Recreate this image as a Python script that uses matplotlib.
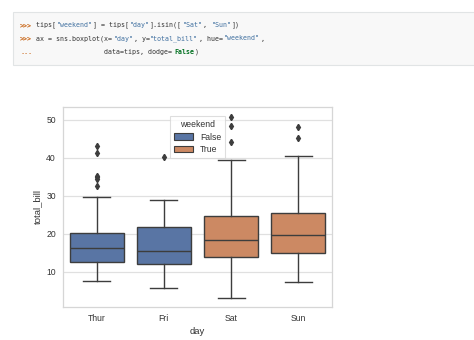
import matplotlib
matplotlib.use('Agg')
import matplotlib.pyplot as plt
import colorsys
from matplotlib.colors import to_rgb
from matplotlib.patches import FancyBboxPatch, Patch

# box statistics for total_bill by day
days = ["Thur", "Fri", "Sat", "Sun"]
weekend = [False, False, True, True]
q1 = [12.44, 12.09, 13.91, 14.99]
med = [16.20, 15.38, 18.24, 19.63]
q3 = [20.16, 21.75, 24.74, 25.60]
whislo = [7.51, 5.75, 3.07, 7.25]
whishi = [29.80, 28.97, 39.42, 40.55]
fliers = [
    [32.68, 34.30, 34.83, 35.26, 41.19, 43.11],
    [40.17],
    [44.30, 48.27, 50.81],
    [45.35, 48.17],
]

# code snippet shown above the chart: (text, colour, bold) tokens per line
code_lines = [
    [(">>>", "#c65d09", True), (" tips[", "#333333", False), ('"weekend"', "#4070a0", False),
     ("] = tips[", "#333333", False), ('"day"', "#4070a0", False), ("].isin([", "#333333", False),
     ('"Sat"', "#4070a0", False), (", ", "#333333", False), ('"Sun"', "#4070a0", False),
     ("])", "#333333", False)],
    [(">>>", "#c65d09", True), (" ax = sns.boxplot(x=", "#333333", False), ('"day"', "#4070a0", False),
     (", y=", "#333333", False), ('"total_bill"', "#4070a0", False), (", hue=", "#333333", False),
     ('"weekend"', "#4070a0", False), (",", "#333333", False)],
    [("...", "#c65d09", True), ("                  data=tips, dodge=", "#333333", False),
     ("False", "#007020", True), (")", "#333333", False)],
]


def desaturate(c, prop=0.75):
    h, l, s = colorsys.rgb_to_hls(*to_rgb(c))
    return colorsys.hls_to_rgb(h, l, s * prop)


W, H = 474, 340
fig = plt.figure(figsize=(W / 100, H / 100), dpi=100)

# code block background
fig.patches.append(FancyBboxPatch((13 / W, 1 - 65 / H), 470 / W, 53 / H,
                                  boxstyle="square,pad=0", transform=fig.transFigure,
                                  facecolor="#f8f8f8", edgecolor="#e1e4e5", linewidth=0.8))
code_fs = 4.8
char_w = 0.602 * code_fs * 100 / 72 * 1.015  # monospace advance, px, with a hair of slack
line_y = [25, 38.5, 52]
for ly, tokens in zip(line_y, code_lines):
    col = 0
    for txt, color, bold in tokens:
        fig.text((20 + col * char_w) / W, 1 - ly / H, txt, family="DejaVu Sans Mono",
                 fontsize=code_fs, color=color, fontweight="bold" if bold else "normal",
                 va="center", ha="left")
        col += len(txt)

plt.rcParams['font.family'] = ['Liberation Sans', 'DejaVu Sans']

ax = fig.add_axes([63 / W, 33 / H, 269 / W, 200 / H])
blue, orange = desaturate("#4c72b0"), desaturate("#dd8452")
edge = "#3d3d3d"

stats = []
for i, d in enumerate(days):
    stats.append(dict(label=d, q1=q1[i], med=med[i], q3=q3[i],
                      whislo=whislo[i], whishi=whishi[i], fliers=fliers[i]))

bp = ax.bxp(stats, positions=range(len(days)), widths=0.8, capwidths=0.4,
            patch_artist=True, showfliers=True,
            boxprops=dict(edgecolor=edge, linewidth=1.0),
            whiskerprops=dict(color=edge, linewidth=1.0),
            capprops=dict(color=edge, linewidth=1.0),
            medianprops=dict(color=edge, linewidth=1.0),
            flierprops=dict(marker="d", markersize=3.2, markerfacecolor=edge,
                            markeredgecolor=edge, linestyle="none"))
for box, wk in zip(bp["boxes"], weekend):
    box.set_facecolor(orange if wk else blue)

ax.set_xlim(-0.5, 3.5)
ax.set_ylim(0.7, 53.4)
ax.set_yticks([10, 20, 30, 40, 50])
ax.set_xticks(range(len(days)))
ax.set_xticklabels(days)
ax.yaxis.grid(True, color="#e0e0e0", linewidth=0.9)
ax.set_axisbelow(True)
for s in ax.spines.values():
    s.set_color("#d6d6d6")
    s.set_linewidth(0.9)
ax.tick_params(axis="both", length=0, labelsize=6.2, colors="#333333", pad=5)
ax.set_xlabel("day", fontsize=6.8, color="#333333", labelpad=3)
ax.set_ylabel("total_bill", fontsize=6.8, color="#333333", labelpad=3)

handles = [Patch(facecolor=blue, edgecolor=edge, linewidth=0.8, label="False"),
           Patch(facecolor=orange, edgecolor=edge, linewidth=0.8, label="True")]
leg = ax.legend(handles=handles, title="weekend", loc="upper center",
                bbox_to_anchor=(0.5, 0.975), fontsize=6.2, title_fontsize=6.2,
                frameon=True, edgecolor="#d6d6d6", fancybox=False,
                handlelength=2.3, handleheight=0.8, borderpad=0.45, labelspacing=0.4)
leg.get_frame().set_linewidth(0.8)
leg.get_title().set_color("#333333")
for t in leg.get_texts():
    t.set_color("#333333")

fig.savefig("out.png", dpi=100)
